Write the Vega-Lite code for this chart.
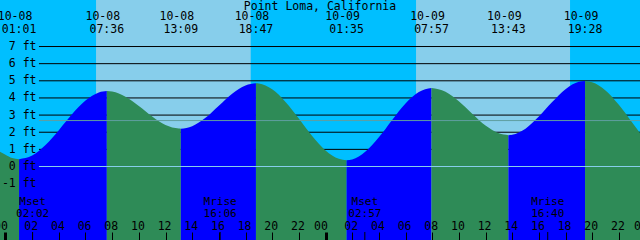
{
  "$schema": "https://vega.github.io/schema/vega-lite/v6.json",
  "width": 640,
  "height": 240,
  "padding": 0,
  "autosize": {"type": "none"},
  "background": "#00BFFF",
  "title": {
    "text": "Point Loma, California",
    "font": "DejaVu Sans Mono",
    "fontSize": 11.5,
    "fontWeight": "normal",
    "color": "black",
    "anchor": "middle",
    "baseline": "top",
    "offset": -12
  },
  "datasets": {
    "sun": [
      {"t": 6.79, "t2": 18.39, "p": "day"},
      {"t": 30.79, "t2": 42.34, "p": "day"}
    ],
    "levels": [
      {"ft": 1}, {"ft": 2}, {"ft": 3}, {"ft": 4}, {"ft": 5}, {"ft": 6}, {"ft": 7}
    ],
    "refs": [
      {"ft": 0, "kind": "datum"},
      {"ft": 2.68, "kind": "msl"}
    ],
    "tide": [
      {"t": -0.4125, "h": 0.86, "phase": "ebb", "seg": 0},
      {"t": 0, "h": 0.68, "phase": "ebb", "seg": 0},
      {"t": 0.5, "h": 0.49, "phase": "ebb", "seg": 0},
      {"t": 1.017, "h": 0.43, "phase": "ebb", "seg": 0},
      {"t": 1.017, "h": 0.43, "phase": "flood", "seg": 1},
      {"t": 2, "h": 0.64, "phase": "flood", "seg": 1},
      {"t": 3, "h": 1.25, "phase": "flood", "seg": 1},
      {"t": 4, "h": 2.12, "phase": "flood", "seg": 1},
      {"t": 5, "h": 3.06, "phase": "flood", "seg": 1},
      {"t": 6, "h": 3.85, "phase": "flood", "seg": 1},
      {"t": 7, "h": 4.32, "phase": "flood", "seg": 1},
      {"t": 7.6, "h": 4.40, "phase": "flood", "seg": 1},
      {"t": 7.6, "h": 4.40, "phase": "ebb", "seg": 2},
      {"t": 8, "h": 4.37, "phase": "ebb", "seg": 2},
      {"t": 9, "h": 4.07, "phase": "ebb", "seg": 2},
      {"t": 10, "h": 3.53, "phase": "ebb", "seg": 2},
      {"t": 11, "h": 2.92, "phase": "ebb", "seg": 2},
      {"t": 12, "h": 2.42, "phase": "ebb", "seg": 2},
      {"t": 13, "h": 2.21, "phase": "ebb", "seg": 2},
      {"t": 13.15, "h": 2.20, "phase": "ebb", "seg": 2},
      {"t": 13.15, "h": 2.20, "phase": "flood", "seg": 3},
      {"t": 14, "h": 2.35, "phase": "flood", "seg": 3},
      {"t": 15, "h": 2.84, "phase": "flood", "seg": 3},
      {"t": 16, "h": 3.55, "phase": "flood", "seg": 3},
      {"t": 17, "h": 4.25, "phase": "flood", "seg": 3},
      {"t": 18, "h": 4.73, "phase": "flood", "seg": 3},
      {"t": 18.783, "h": 4.85, "phase": "flood", "seg": 3},
      {"t": 18.783, "h": 4.85, "phase": "ebb", "seg": 4},
      {"t": 19, "h": 4.84, "phase": "ebb", "seg": 4},
      {"t": 20, "h": 4.50, "phase": "ebb", "seg": 4},
      {"t": 21, "h": 3.77, "phase": "ebb", "seg": 4},
      {"t": 22, "h": 2.80, "phase": "ebb", "seg": 4},
      {"t": 23, "h": 1.78, "phase": "ebb", "seg": 4},
      {"t": 24, "h": 0.94, "phase": "ebb", "seg": 4},
      {"t": 25, "h": 0.45, "phase": "ebb", "seg": 4},
      {"t": 25.583, "h": 0.37, "phase": "ebb", "seg": 4},
      {"t": 25.583, "h": 0.37, "phase": "flood", "seg": 5},
      {"t": 26, "h": 0.41, "phase": "flood", "seg": 5},
      {"t": 27, "h": 0.87, "phase": "flood", "seg": 5},
      {"t": 28, "h": 1.70, "phase": "flood", "seg": 5},
      {"t": 29, "h": 2.72, "phase": "flood", "seg": 5},
      {"t": 30, "h": 3.68, "phase": "flood", "seg": 5},
      {"t": 31, "h": 4.35, "phase": "flood", "seg": 5},
      {"t": 31.95, "h": 4.58, "phase": "flood", "seg": 5},
      {"t": 31.95, "h": 4.58, "phase": "ebb", "seg": 6},
      {"t": 33, "h": 4.36, "phase": "ebb", "seg": 6},
      {"t": 34, "h": 3.81, "phase": "ebb", "seg": 6},
      {"t": 35, "h": 3.08, "phase": "ebb", "seg": 6},
      {"t": 36, "h": 2.39, "phase": "ebb", "seg": 6},
      {"t": 37, "h": 1.94, "phase": "ebb", "seg": 6},
      {"t": 37.717, "h": 1.83, "phase": "ebb", "seg": 6},
      {"t": 37.717, "h": 1.83, "phase": "flood", "seg": 7},
      {"t": 38, "h": 1.85, "phase": "flood", "seg": 7},
      {"t": 39, "h": 2.20, "phase": "flood", "seg": 7},
      {"t": 40, "h": 2.91, "phase": "flood", "seg": 7},
      {"t": 41, "h": 3.76, "phase": "flood", "seg": 7},
      {"t": 42, "h": 4.51, "phase": "flood", "seg": 7},
      {"t": 43, "h": 4.94, "phase": "flood", "seg": 7},
      {"t": 43.467, "h": 4.99, "phase": "flood", "seg": 7},
      {"t": 43.467, "h": 4.99, "phase": "ebb", "seg": 8},
      {"t": 44, "h": 4.92, "phase": "ebb", "seg": 8},
      {"t": 45, "h": 4.44, "phase": "ebb", "seg": 8},
      {"t": 46, "h": 3.60, "phase": "ebb", "seg": 8},
      {"t": 47, "h": 2.57, "phase": "ebb", "seg": 8},
      {"t": 47.5875, "h": 1.96, "phase": "ebb", "seg": 8}
    ],
    "events": [
      {"t": 1.017, "date": "10-08", "time": "01:01"},
      {"t": 7.6, "date": "10-08", "time": "07:36"},
      {"t": 13.15, "date": "10-08", "time": "13:09"},
      {"t": 18.783, "date": "10-08", "time": "18:47"},
      {"t": 25.583, "date": "10-09", "time": "01:35"},
      {"t": 31.95, "date": "10-09", "time": "07:57"},
      {"t": 37.717, "date": "10-09", "time": "13:43"},
      {"t": 43.467, "date": "10-09", "time": "19:28"}
    ],
    "moon": [
      {"t": 2.033, "ev": "Mset", "time": "02:02"},
      {"t": 16.1, "ev": "Mrise", "time": "16:06"},
      {"t": 26.95, "ev": "Mset", "time": "02:57"},
      {"t": 40.667, "ev": "Mrise", "time": "16:40"}
    ]
  },
  "layer": [
    {
      "data": {"name": "sun"},
      "mark": {"type": "rect", "color": "#87CEEB"},
      "encoding": {
        "x": {
          "field": "t",
          "type": "quantitative",
          "title": null,
          "scale": {"domain": [-0.4125, 48], "range": [0, 645.5], "nice": false, "zero": false},
          "axis": {
            "orient": "top",
            "offset": -240,
            "values": [0, 2, 4, 6, 8, 10, 12, 14, 16, 18, 20, 22, 24, 26, 28, 30, 32, 34, 36, 38, 40, 42, 44, 46, 48],
            "tickCount": 100,
            "labelExpr": "(datum.value % 24 < 10 ? '0' : '') + (datum.value % 24)",
            "domain": false,
            "grid": false,
            "ticks": true,
            "tickSize": 8,
            "tickColor": "black",
            "tickWidth": {"condition": {"test": "datum.value % 24 === 0", "value": 3}, "value": 1},
            "labelOffset": {"condition": {"test": "datum.value % 24 === 0", "value": -5}, "value": -1.4},
            "labelPadding": 1,
            "labelFlush": false,
            "labelOverlap": false,
            "labelBound": false,
            "labelSeparation": 0,
            "labelFont": "DejaVu Sans Mono",
            "labelFontSize": 11.5,
            "labelColor": "black",
            "zindex": 1
          }
        },
        "x2": {"field": "t2"}
      }
    },
    {
      "data": {"name": "levels"},
      "mark": {"type": "rule", "color": "black", "strokeWidth": 1},
      "encoding": {
        "y": {
          "field": "ft",
          "type": "quantitative",
          "title": null,
          "scale": {"domain": [-4.288, 9.714], "nice": false, "zero": false},
          "axis": {
            "orient": "left",
            "offset": -36,
            "values": [-1, 0, 1, 2, 3, 4, 5, 6, 7],
            "tickCount": 100,
            "labelExpr": "datum.value + ' ft'",
            "domain": false,
            "grid": false,
            "ticks": false,
            "tickSize": 0,
            "labelPadding": 0,
            "labelOverlap": false,
            "labelFlush": false,
            "labelBound": false,
            "labelSeparation": 0,
            "labelFont": "DejaVu Sans Mono",
            "labelFontSize": 11.5,
            "labelColor": "black",
            "zindex": 1
          }
        },
        "x": {"datum": 2.51},
        "x2": {"datum": 47.5875}
      }
    },
    {
      "data": {"name": "tide"},
      "mark": {"type": "area", "interpolate": "monotone"},
      "encoding": {
        "x": {"field": "t", "type": "quantitative", "title": null},
        "y": {"field": "h", "type": "quantitative", "title": null},
        "y2": {"datum": -4.288},
        "color": {
          "field": "phase",
          "type": "nominal",
          "scale": {"domain": ["flood", "ebb"], "range": ["#0000FF", "#2E8B57"]},
          "legend": null
        },
        "detail": {"field": "seg"}
      }
    },
    {
      "data": {"name": "refs"},
      "mark": {"type": "rule", "strokeWidth": 1},
      "encoding": {
        "y": {"field": "ft", "type": "quantitative", "title": null},
        "x": {"datum": 2.51},
        "x2": {"datum": 47.5875},
        "stroke": {
          "field": "kind",
          "type": "nominal",
          "scale": {"domain": ["datum", "msl"], "range": ["#87CEEB", "#5F9EA0"]},
          "legend": null
        }
      }
    },
    {
      "data": {"name": "events"},
      "mark": {"type": "text", "font": "DejaVu Sans Mono", "fontSize": 11.5, "color": "black", "dx": -4},
      "encoding": {
        "x": {"field": "t", "type": "quantitative", "title": null},
        "y": {"datum": 8.72},
        "text": {"field": "date"}
      }
    },
    {
      "data": {"name": "events"},
      "mark": {"type": "text", "font": "DejaVu Sans Mono", "fontSize": 11.5, "color": "black"},
      "encoding": {
        "x": {"field": "t", "type": "quantitative", "title": null},
        "y": {"datum": 7.96},
        "text": {"field": "time"}
      }
    },
    {
      "data": {"name": "moon"},
      "mark": {"type": "text", "font": "DejaVu Sans Mono", "fontSize": 11, "color": "black"},
      "encoding": {
        "x": {"field": "t", "type": "quantitative", "title": null},
        "y": {"datum": -2.05},
        "text": {"field": "ev"}
      }
    },
    {
      "data": {"name": "moon"},
      "mark": {"type": "text", "font": "DejaVu Sans Mono", "fontSize": 11, "color": "black"},
      "encoding": {
        "x": {"field": "t", "type": "quantitative", "title": null},
        "y": {"datum": -2.75},
        "text": {"field": "time"}
      }
    },
    {
      "data": {"name": "moon"},
      "mark": {"type": "rule", "color": "black", "strokeWidth": 1},
      "encoding": {
        "x": {"field": "t", "type": "quantitative", "title": null},
        "y": {"datum": -3.82},
        "y2": {"datum": -4.288}
      }
    }
  ],
  "config": {
    "view": {"stroke": null},
    "axis": {"labelOverlap": false, "labelFlush": false, "labelSeparation": 0}
  }
}
